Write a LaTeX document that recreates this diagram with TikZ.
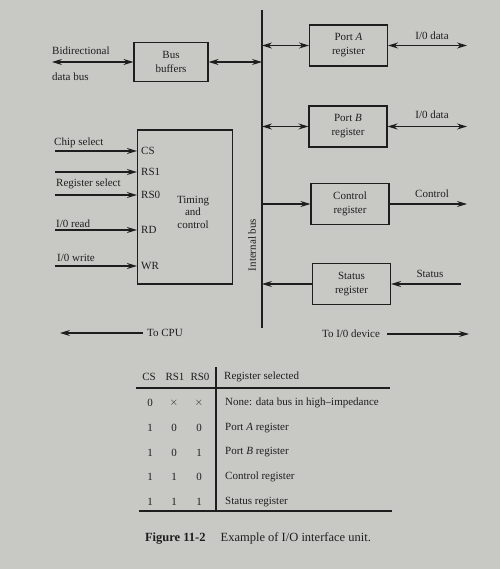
\documentclass[tikz,border=0pt]{standalone}
\usepackage{fontspec}
\setmainfont{Liberation Serif}
\usetikzlibrary{arrows.meta}
\definecolor{paper}{RGB}{200,200,197}
\definecolor{ink}{RGB}{30,30,30}
\tikzset{
  reg/.style={draw=ink, line width=1.1pt, minimum width=78pt, minimum height=41pt,
    align=center, text=ink, font=\fontsize{11}{14}\selectfont},
  lbl/.style={text=ink, inner sep=1pt, align=center, font=\fontsize{11}{13}\selectfont},
  wire/.style={draw=ink, line width=1.1pt},
}
\begin{document}
\begin{tikzpicture}[>={Stealth[length=10pt,width=6pt]}, x=1pt, y=-1pt]
\fill[paper](0,0) rectangle (500,569);
% interface unit
\node[reg, minimum width=74pt, minimum height=39pt] (buf) at (171,62) {Bus\\buffers};
\node[reg] (porta) at (348.5,45.5) {Port \textit{A}\\register};
\node[reg] (portb) at (348,126.5) {Port \textit{B}\\register};
\node[reg] (ctrl) at (350,204) {Control\\register};
\node[reg] (stat) at (351.5,284) {Status\\register};
\node[reg, minimum width=95pt, minimum height=154pt] (tc) at (185,207) {};
\node[lbl, font=\fontsize{11}{12.5}\selectfont] (tmg) at (193,212) {Timing\\and\\control};
% internal bus
\coordinate (bustop) at (262,10);
\coordinate (busbot) at (262,328);
\draw[wire](bustop)--(busbot);
\node[lbl, rotate=90] (ibl) at (252,245) {Internal bus};
% data bus side
\coordinate (bid) at (52,62);
\node[lbl, anchor=west] (bidl) at (51,51) {Bidirectional};
\node[lbl, anchor=west] (dbl) at (51,77) {data bus};
\draw[wire,<->](bid)--(buf.west);
\draw[wire,<->](buf.east)--(buf.east -| bustop);
% control inputs
\foreach \nm/\pin/\y in {cs/CS/151, rsa/RS1/172, rsb/RS0/195, rd/RD/230, wr/WR/266}{
  \node[lbl, anchor=west] (\nm) at (140,\y) {\pin};
  \coordinate (\nm-in) at (55,\y);
  \draw[wire,->](\nm-in)--(\nm-in -| tc.west);
}
\node[lbl, anchor=west] (csl) at (53,143) {Chip select};
\node[lbl, anchor=west] (rsl) at (55,184) {Register select};
\node[lbl, anchor=west] (rdl) at (55,224) {I/0 read};
\node[lbl, anchor=west] (wrl) at (56,258) {I/0 write};
% registers to bus and device
\coordinate (ioend) at (467,0);
\draw[wire,<->](porta.west -| bustop)--(porta.west);
\draw[wire,<->](porta.east)--(porta.east -| ioend);
\node[lbl] (ioa) at (432,36) {I/0 data};
\draw[wire,<->](portb.west -| bustop)--(portb.west);
\draw[wire,<->](portb.east)--(portb.east -| ioend);
\node[lbl] (iob) at (432,115) {I/0 data};
\draw[wire,->](ctrl.west -| bustop)--(ctrl.west);
\draw[wire,->](ctrl.east)--(ctrl.east -| ioend);
\node[lbl] (ctl) at (432,194) {Control};
\draw[wire,->](stat.west)--(stat.west -| bustop);
\coordinate (stin) at (461,0);
\draw[wire,->](stat.east -| stin)--(stat.east);
\node[lbl] (stl) at (430,274) {Status};
% bottom
\node[lbl] (tocpu) at (165,333) {To CPU};
\coordinate (cpuend) at (60,333);
\draw[wire,->](tocpu.west)++(-3,0)--(cpuend);
\node[lbl] (todev) at (351,334) {To I/0 device};
\coordinate (devend) at (469,330);
\draw[wire,->]([xshift=6pt]todev.east)--(todev.east -| devend);
% table
\coordinate (vtop) at (216,367);
\coordinate (vbot) at (216,511);
\coordinate (hl) at (136,388);
\coordinate (hr) at (390,388);
\coordinate (bl) at (139,511);
\coordinate (br) at (392,511);
\draw[wire](vtop)--(vbot);
\draw[wire](hl)--(hr);
\draw[wire](bl)--(br);
\node[lbl] (hcs) at (149,377) {CS};
\node[lbl] (hrs1) at (175,377) {RS1};
\node[lbl] (hrs0) at (200,377) {RS0};
\node[lbl, anchor=west] (hsel) at (223,377) {Register selected};
\foreach \a/\b/\c/\t [count=\i] in {0/$\times$/$\times$/{None: data bus in high--impedance},
    1/0/0/{Port \textit{A} register}, 1/0/1/{Port \textit{B} register},
    1/1/0/{Control register}, 1/1/1/{Status register}}{
  \node[lbl] (ca-\i) at (150,378+24.8*\i) {\a};
  \node[lbl] (cb-\i) at (174,378+24.8*\i) {\b};
  \node[lbl] (cc-\i) at (199,378+24.8*\i) {\c};
  \node[lbl, anchor=west] (cd-\i) at (224,378+24.8*\i) {\t};
}
\node[lbl, font=\fontsize{12.5}{14}\selectfont] (cap) at (258,538) {\textbf{Figure 11-2}\hspace{1.2em}Example of I/O interface unit.};
\end{tikzpicture}
\end{document}
